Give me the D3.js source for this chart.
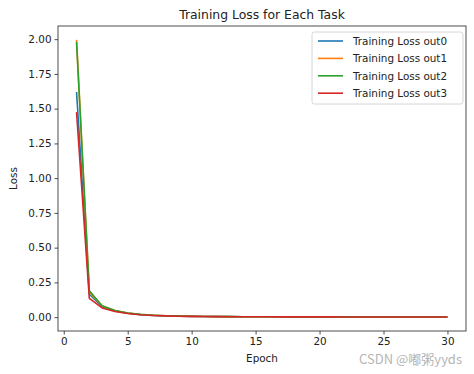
<!DOCTYPE html>
<html>
<head>
<meta charset="utf-8">
<script src="https://cdn.jsdelivr.net/npm/d3@7"></script>
<style>
  body{margin:0;background:#fff;}
  svg text{font-family:"DejaVu Sans",sans-serif;fill:#222;}
</style>
</head>
<body>
<div id="grafico"></div>
<script>
// dados
const epocas = d3.range(1, 31);
const nomes = ['Training Loss out0','Training Loss out1','Training Loss out2','Training Loss out3'];
const cores = ['#1f77b4','#ff7f0e','#2ca02c','#d62728'];
const out0 = [1.62,0.165,0.075,0.045,0.028,0.018,0.012,0.009,0.007,0.0055,0.0045,0.0038,0.0033,0.0029,0.0026,0.0023,0.0021,0.0019,0.0018,0.0017,0.0016,0.0015,0.0014,0.0013,0.0013,0.0012,0.0012,0.0011,0.0011,0.001];
const out1 = [1.995,0.18,0.08,0.047,0.029,0.019,0.013,0.0095,0.0072,0.0057,0.0046,0.0039,0.0034,0.003,0.0026,0.0024,0.0022,0.002,0.0018,0.0017,0.0016,0.0015,0.0014,0.0013,0.0013,0.0012,0.0012,0.0011,0.0011,0.001];
const out2 = [1.98,0.19,0.082,0.048,0.03,0.02,0.014,0.01,0.0075,0.006,0.0048,0.004,0.0035,0.003,0.0027,0.0024,0.0022,0.002,0.0019,0.0017,0.0016,0.0015,0.0014,0.0014,0.0013,0.0012,0.0012,0.0011,0.0011,0.001];
const out3 = [1.475,0.135,0.066,0.04,0.026,0.017,0.012,0.0088,0.0068,0.0054,0.0044,0.0037,0.0032,0.0028,0.0025,0.0023,0.0021,0.0019,0.0018,0.0016,0.0015,0.0014,0.0014,0.0013,0.0012,0.0012,0.0011,0.0011,0.001,0.001];
const series = [out0,out1,out2,out3];
const xTicks = [0,5,10,15,20,25,30];
const yTicks = [0,0.25,0.5,0.75,1,1.25,1.5,1.75,2];

const largura=474, altura=374;
const esq=58, dir=466, topo=26, baixo=331;

const svg=d3.select('#grafico').append('svg')
  .attr('width',largura).attr('height',altura);

const x=d3.scaleLinear().domain([-0.45,31.45]).range([esq,dir]);
const y=d3.scaleLinear().domain([-0.0998,2.0948]).range([baixo,topo]);

// eixos
const eixoX=svg.append('g').attr('transform',`translate(0,${baixo})`)
  .call(d3.axisBottom(x).tickValues(xTicks).tickFormat(d3.format('d')).tickSizeOuter(0).tickSize(3.5).tickPadding(3));
const eixoY=svg.append('g').attr('transform',`translate(${esq},0)`)
  .call(d3.axisLeft(y).tickValues(yTicks).tickFormat(d3.format('.2f')).tickSizeOuter(0).tickSize(3.5).tickPadding(3));
[eixoX,eixoY].forEach(g=>{
  g.select('.domain').remove();
  g.selectAll('text').style('font-size','10.4px').attr('fill','#222');
  g.selectAll('line').attr('stroke','#222').attr('stroke-width',0.8);
});

// linhas
const linha=d3.line().x((d,i)=>x(epocas[i])).y(d=>y(d));
series.forEach((s,k)=>{
  svg.append('path').datum(s)
    .attr('d',linha).attr('fill','none')
    .attr('stroke',cores[k]).attr('stroke-width',1.6)
    .attr('stroke-linejoin','round');
});

// moldura
svg.append('rect').attr('x',esq).attr('y',topo)
  .attr('width',dir-esq).attr('height',baixo-topo)
  .attr('fill','none').attr('stroke','#222').attr('stroke-width',0.8);

// textos
svg.append('text').attr('x',(esq+dir)/2).attr('y',19).attr('text-anchor','middle')
  .style('font-size','12.4px').text('Training Loss for Each Task');
svg.append('text').attr('x',(esq+dir)/2).attr('y',362).attr('text-anchor','middle')
  .style('font-size','10.4px').text('Epoch');
svg.append('text').attr('transform',`translate(17,${(topo+baixo)/2}) rotate(-90)`)
  .attr('text-anchor','middle').style('font-size','10.4px').text('Loss');

// legenda
const leg=svg.append('g');
leg.append('rect').attr('x',312).attr('y',32).attr('width',151).attr('height',72)
  .attr('rx',2.5).attr('fill','#fff').attr('fill-opacity',0.8)
  .attr('stroke','#ccc').attr('stroke-width',0.8);
nomes.forEach((n,k)=>{
  const yy=41+k*17.4;
  leg.append('line').attr('x1',318).attr('x2',343).attr('y1',yy).attr('y2',yy)
    .attr('stroke',cores[k]).attr('stroke-width',1.6);
  leg.append('text').attr('x',353).attr('y',yy+3.8)
    .style('font-size','10.4px').text(n);
});

// marca d'agua
svg.append('text').attr('x',462).attr('y',364).attr('text-anchor','end')
  .style('font-size','13px').style('fill','#b5b5b5')
  .style('font-family','"Noto Sans CJK SC","DejaVu Sans",sans-serif')
  .text('CSDN @嘟粥yyds');
</script>
</body>
</html>
